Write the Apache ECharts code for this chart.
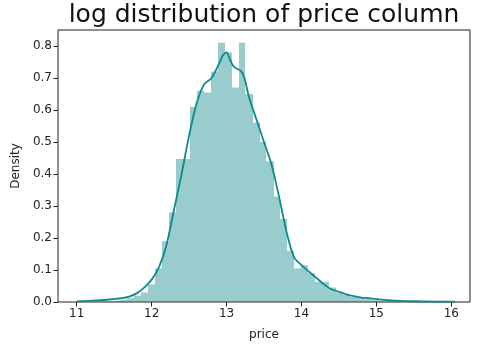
<!DOCTYPE html>
<html lang="en">
  <head>
    <meta charset="UTF-8" />
    <title>log distribution of price column</title>
    <script src="https://cdn.jsdelivr.net/npm/echarts/dist/echarts.min.js"></script>
    <style>
      body {
        margin: 0;
        background: #fff;
      }
      #chart {
        width: 494px;
        height: 351px;
      }
    </style>
  </head>
  <body>
    <div id="chart"></div>

    <script>
      // histogram bin edges (log price) and density of each bin
      var binEdges = [
        11.294, 11.387, 11.481, 11.574, 11.667, 11.761, 11.854, 11.947, 12.04,
        12.134, 12.227, 12.32, 12.414, 12.507, 12.6, 12.694, 12.787, 12.88,
        12.973, 13.067, 13.16, 13.253, 13.347, 13.44, 13.533, 13.627, 13.72,
        13.813, 13.906, 14.0, 14.093, 14.186, 14.28, 14.373, 14.466, 14.56,
        14.653, 14.746, 14.839, 14.933, 15.026, 15.119, 15.213, 15.306, 15.399,
        15.493, 15.586, 15.679, 15.772, 15.866, 15.959,
      ];
      var binDensity = [
        0.002, 0.003, 0.004, 0.007, 0.012, 0.02, 0.03, 0.055, 0.105, 0.19,
        0.28, 0.447, 0.447, 0.61, 0.66, 0.655, 0.72, 0.81, 0.78, 0.67,
        0.81, 0.65, 0.56, 0.5, 0.44, 0.33, 0.26, 0.16, 0.105, 0.115,
        0.09, 0.063, 0.063, 0.045, 0.03, 0.022, 0.016, 0.012, 0.009, 0.006,
        0.004, 0.003, 0.002, 0.002, 0.001, 0.001, 0.001, 0.0005, 0.0005, 0.0005,
      ];

      // kde curve
      var kdeX = [
        11.0, 11.2, 11.4, 11.6, 11.7, 11.8, 11.9, 12.0, 12.1, 12.2, 12.3, 12.4,
        12.5, 12.6, 12.7, 12.8, 12.9, 12.95, 13.0, 13.05, 13.1, 13.2, 13.25,
        13.3, 13.4, 13.5, 13.6, 13.7, 13.8, 13.9, 14.0, 14.1, 14.2, 14.3, 14.4,
        14.5, 14.6, 14.7, 14.8, 14.9, 15.0, 15.2, 15.4, 15.6, 15.8, 16.05,
      ];
      var kdeY = [
        0.002, 0.004, 0.007, 0.012, 0.017, 0.027, 0.045, 0.07, 0.11, 0.18,
        0.29, 0.4, 0.52, 0.62, 0.68, 0.7, 0.745, 0.77, 0.78, 0.755, 0.735,
        0.72, 0.69, 0.64, 0.57, 0.5, 0.43, 0.33, 0.22, 0.14, 0.115, 0.095,
        0.075, 0.055, 0.04, 0.032, 0.024, 0.018, 0.014, 0.012, 0.009, 0.005,
        0.003, 0.002, 0.001, 0.001,
      ];

      var xTicks = [11, 12, 13, 14, 15, 16];
      var yTicks = [0, 0.1, 0.2, 0.3, 0.4, 0.5, 0.6, 0.7, 0.8];

      var histData = binDensity.map(function (d, i) {
        return [binEdges[i], binEdges[i + 1], d];
      });
      var kdeData = kdeX.map(function (x, i) {
        return [x, kdeY[i]];
      });

      var font = "DejaVu Sans";
      var chart = echarts.init(document.getElementById("chart"));

      var option = {
        animation: false,
        backgroundColor: "#fff",
        graphic: [
          {
            type: "text",
            x: 264,
            y: 15,
            style: {
              text: "log distribution of price column",
              font: "25px 'DejaVu Sans'",
              fill: "#111",
              textAlign: "center",
              textVerticalAlign: "middle",
            },
          },
        ],
        grid: {
          left: 58,
          right: 24,
          top: 30,
          bottom: 49,
          show: true,
          borderColor: "#222",
          borderWidth: 1,
        },
        xAxis: {
          type: "value",
          min: 10.75,
          max: 16.25,
          name: "price",
          nameLocation: "middle",
          nameGap: 27,
          nameTextStyle: { fontFamily: font, fontSize: 12, color: "#222" },
          axisLine: { show: false },
          axisTick: {
            show: true,
            length: 4.5,
            customValues: xTicks,
            lineStyle: { color: "#222", width: 1 },
          },
          axisLabel: {
            customValues: xTicks,
            fontFamily: font,
            fontSize: 12,
            color: "#222",
            margin: 6,
          },
          splitLine: { show: false },
        },
        yAxis: {
          type: "value",
          min: 0,
          max: 0.85,
          name: "Density",
          nameLocation: "middle",
          nameGap: 35,
          nameTextStyle: { fontFamily: font, fontSize: 12, color: "#222" },
          axisLine: { show: false },
          axisTick: {
            show: true,
            length: 4.5,
            customValues: yTicks,
            lineStyle: { color: "#222", width: 1 },
          },
          axisLabel: {
            customValues: yTicks,
            fontFamily: font,
            fontSize: 12,
            color: "#222",
            margin: 6,
            formatter: function (v) {
              return v.toFixed(1);
            },
          },
          splitLine: { show: false },
        },
        series: [
          {
            type: "custom",
            data: histData,
            renderItem: function (params, api) {
              var p0 = api.coord([api.value(0), api.value(2)]);
              var p1 = api.coord([api.value(1), 0]);
              // snap bin edges to whole pixels so neighbouring bars meet without seams
              var x0 = Math.round(p0[0]);
              var x1 = Math.round(p1[0]);
              return {
                type: "rect",
                shape: {
                  x: x0,
                  y: p0[1],
                  width: x1 - x0,
                  height: p1[1] - p0[1],
                },
                style: { fill: "rgba(0,128,128,0.4)" },
              };
            },
          },
          {
            type: "line",
            data: kdeData,
            smooth: 0.3,
            showSymbol: false,
            lineStyle: { color: "#0e8a8a", width: 1.8 },
            z: 5,
          },
        ],
      };

      chart.setOption(option);
    </script>
  </body>
</html>
